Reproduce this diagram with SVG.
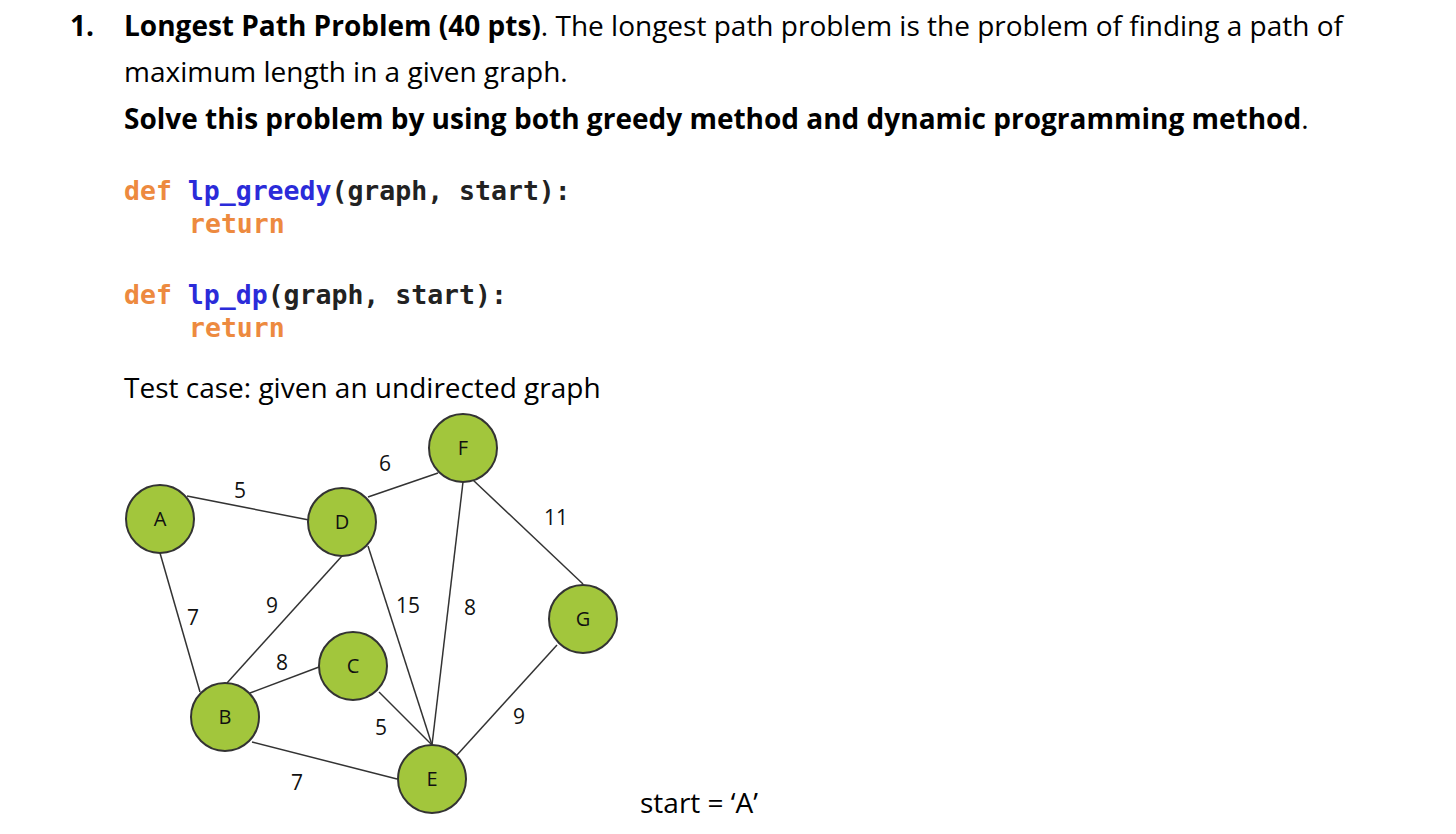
<svg xmlns="http://www.w3.org/2000/svg" width="1456" height="834" viewBox="0 0 1456 834">
<style>
.t{font-family:"Open Sans","Liberation Sans",sans-serif;font-size:28px;fill:#000}
.c{font-family:"DejaVu Sans Mono","Liberation Mono",monospace;font-size:26.5px;font-weight:bold}
.k{fill:#ed8a3f}.f{fill:#2b2bd9}.p{fill:#222}
.n{fill:#a2c63c;stroke:#333;stroke-width:2}
.nl{font-family:"Open Sans","Liberation Sans",sans-serif;font-size:20px;text-anchor:middle;fill:#111}
.el{font-family:"Open Sans","Liberation Sans",sans-serif;font-size:21px;text-anchor:middle;fill:#111}
#edges line{stroke:#333;stroke-width:1.5}
</style>
<rect width="1456" height="834" fill="#fff"/>
<text class="t" x="70" y="36"><tspan font-weight="bold">1.</tspan><tspan x="124" font-weight="bold">Longest Path Problem (40 pts)</tspan>. The longest path problem is the problem of finding a path of</text>
<text class="t" x="124" y="82">maximum length in a given graph.</text>
<text class="t" x="124" y="129"><tspan font-weight="bold">Solve this problem by using both greedy method and dynamic programming method</tspan>.</text>
<text class="c" x="124" y="200"><tspan class="k">def</tspan> <tspan class="f">lp_greedy</tspan><tspan class="p">(graph, start):</tspan></text>
<text class="c k" x="189" y="233">return</text>
<text class="c" x="124" y="304"><tspan class="k">def</tspan> <tspan class="f">lp_dp</tspan><tspan class="p">(graph, start):</tspan></text>
<text class="c k" x="189" y="337">return</text>
<text class="t" x="124" y="398">Test case: given an undirected graph</text>
<g id="edges">
<line x1="187" y1="496" x2="309" y2="520"/>
<line x1="368" y1="497" x2="438" y2="473"/>
<line x1="160" y1="553" x2="200" y2="692"/>
<line x1="227" y1="683" x2="342" y2="556"/>
<line x1="250" y1="693" x2="319" y2="667"/>
<line x1="368" y1="546" x2="432" y2="745"/>
<line x1="463" y1="482" x2="432" y2="745"/>
<line x1="379" y1="692" x2="432" y2="745"/>
<line x1="252" y1="742" x2="397" y2="779"/>
<line x1="457" y1="755" x2="557" y2="645"/>
<line x1="473" y1="480" x2="583" y2="584"/>
<text class="el" x="240" y="498">5</text>
<text class="el" x="385" y="471">6</text>
<text class="el" x="556" y="525">11</text>
<text class="el" x="193" y="625">7</text>
<text class="el" x="272" y="613">9</text>
<text class="el" x="408" y="613">15</text>
<text class="el" x="470" y="615">8</text>
<text class="el" x="282" y="670">8</text>
<text class="el" x="381" y="735">5</text>
<text class="el" x="519" y="724">9</text>
<text class="el" x="297" y="790">7</text>
</g>
<g id="A"><circle class="n" cx="160" cy="519" r="34"/><text class="nl" x="160" y="526">A</text></g>
<g id="D"><circle class="n" cx="342" cy="522" r="34"/><text class="nl" x="342" y="529">D</text></g>
<g id="F"><circle class="n" cx="463" cy="448" r="34"/><text class="nl" x="463" y="455">F</text></g>
<g id="G"><circle class="n" cx="583" cy="619" r="34"/><text class="nl" x="583" y="626">G</text></g>
<g id="C"><circle class="n" cx="353" cy="666" r="34"/><text class="nl" x="353" y="673">C</text></g>
<g id="B"><circle class="n" cx="225" cy="717" r="34"/><text class="nl" x="225" y="724">B</text></g>
<g id="E"><circle class="n" cx="432" cy="779" r="34"/><text class="nl" x="432" y="786">E</text></g>
<text class="t" x="640" y="813">start = ‘A’</text>
</svg>
